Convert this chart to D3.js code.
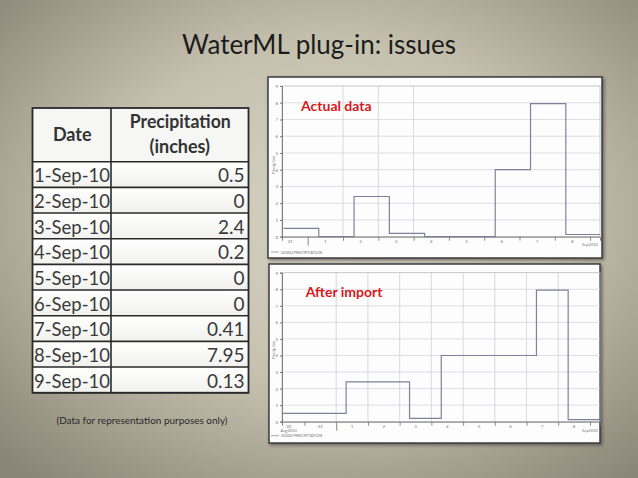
<!DOCTYPE html>
<html>
<head>
<meta charset="utf-8">
<script src="https://cdn.jsdelivr.net/npm/d3@7"></script>
<style>
  body { margin: 0; background: #8a8576; }
  svg { display: block; }
  text { font-family: Lato, "Liberation Sans", sans-serif; }
</style>
</head>
<body>
<div id="slide"></div>
<script>
// table contents
var dates = ["1-Sep-10", "2-Sep-10", "3-Sep-10", "4-Sep-10", "5-Sep-10",
             "6-Sep-10", "7-Sep-10", "8-Sep-10", "9-Sep-10"];
var precip = [0.5, 0, 2.4, 0.2, 0, 0, 0.41, 7.95, 0.13];

// what the two charts plot
var actualTimes = ["2010-08-31T07:30", "2010-09-01T07:30", "2010-09-02T07:30",
                   "2010-09-03T07:30", "2010-09-04T07:30", "2010-09-05T07:30",
                   "2010-09-06T07:30", "2010-09-07T07:30", "2010-09-08T07:30"];
var actualValues = [0.5, 0, 2.4, 0.2, 0, 0, 4, 7.95, 0.13];
var importTimes = ["2010-08-30T07:30", "2010-09-01T07:30", "2010-09-03T07:30",
                   "2010-09-04T07:30", "2010-09-07T07:30", "2010-09-08T07:30"];
var importValues = [0.5, 2.4, 0.2, 4, 7.95, 0.13];

// axis ticks / labels
var yTicks = [0, 1, 2, 3, 4, 5, 6, 7, 8, 9];
var topDomain = ["2010-08-31T06:30", "2010-09-09T06:45"];
var bottomDomain = ["2010-08-30T07:00", "2010-09-09T07:35"];
var topGridDays = ["2010-09-02", "2010-09-03", "2010-09-04"];
var bottomGridDays = ["2010-09-01", "2010-09-02", "2010-09-03", "2010-09-04",
                      "2010-09-05", "2010-09-06", "2010-09-07", "2010-09-08"];

var parse = d3.isoParse;
var width = 638, height = 478;

var svg = d3.select("#slide").append("svg")
    .attr("width", width)
    .attr("height", height);

var defs = svg.append("defs");
var bg = defs.append("radialGradient").attr("id", "bg")
    .attr("cx", "52%").attr("cy", "45%").attr("r", "72%");
bg.append("stop").attr("offset", "0%").attr("stop-color", "#d5d1c1");
bg.append("stop").attr("offset", "50%").attr("stop-color", "#c6c1af");
bg.append("stop").attr("offset", "100%").attr("stop-color", "#8a8576");

var shadow = defs.append("filter").attr("id", "shadow")
    .attr("x", "-5%").attr("y", "-5%").attr("width", "115%").attr("height", "115%");
shadow.append("feDropShadow").attr("dx", 1.5).attr("dy", 1.5)
    .attr("stdDeviation", 1.5).attr("flood-color", "#333").attr("flood-opacity", 0.6);

svg.append("rect")
    .attr("width", width)
    .attr("height", height)
    .attr("fill", "url(#bg)");

// title
svg.append("text")
    .attr("x", 319)
    .attr("y", 54)
    .attr("text-anchor", "middle")
    .attr("font-size", 27)
    .attr("textLength", 274)
    .attr("lengthAdjust", "spacingAndGlyphs")
    .attr("fill", "#1c1c1c")
    .text("WaterML plug-in: issues");

// ---- table ----
var tLeft = 32.5, tMid = 111, tRight = 248.5,
    tTop = 108, tHead = 161.7, rowH = 25.67;

var table = svg.append("g");
var cellGrad = defs.append("linearGradient").attr("id", "cell")
    .attr("x1", 0).attr("y1", 0).attr("x2", 0).attr("y2", 1);
cellGrad.append("stop").attr("offset", "0%").attr("stop-color", "#ffffff");
cellGrad.append("stop").attr("offset", "100%").attr("stop-color", "#f1f1ef");

table.append("rect")
    .attr("x", tLeft).attr("y", tTop)
    .attr("width", tRight - tLeft).attr("height", tHead - tTop)
    .attr("fill", "#f6f6f4");

var rows = table.selectAll(".row")
    .data(dates)
    .join("g")
    .attr("class", "row")
    .attr("transform", function(d, i) { return "translate(0," + (tHead + i * rowH) + ")"; });

rows.append("rect")
    .attr("x", tLeft).attr("width", tRight - tLeft).attr("height", rowH)
    .attr("fill", "url(#cell)");

rows.append("text")
    .attr("x", tLeft + 1.5)
    .attr("y", rowH - 5)
    .attr("font-size", 19)
    .attr("textLength", 76)
    .attr("lengthAdjust", "spacingAndGlyphs")
    .attr("fill", "#3a3a3a")
    .text(function(d) { return d; });

rows.append("text")
    .attr("x", tRight - 4)
    .attr("y", rowH - 5)
    .attr("text-anchor", "end")
    .attr("font-size", 19)
    .attr("fill", "#3a3a3a")
    .text(function(d, i) { return String(precip[i]); });

// grid lines of the table
var lineYs = d3.range(dates.length + 1).map(function(i) { return tHead + i * rowH; });
table.selectAll(".hline")
    .data(lineYs)
    .join("line")
    .attr("x1", tLeft).attr("x2", tRight)
    .attr("y1", function(d) { return d; }).attr("y2", function(d) { return d; })
    .attr("stroke", "#2a2a2a").attr("stroke-width", 1.6);
table.append("line")
    .attr("x1", tMid).attr("x2", tMid).attr("y1", tTop).attr("y2", lineYs[lineYs.length - 1])
    .attr("stroke", "#2a2a2a").attr("stroke-width", 1.6);
table.append("rect")
    .attr("x", tLeft).attr("y", tTop)
    .attr("width", tRight - tLeft).attr("height", lineYs[lineYs.length - 1] - tTop)
    .attr("fill", "none").attr("stroke", "#2a2a2a").attr("stroke-width", 1.8);

table.append("text")
    .attr("x", (tLeft + tMid) / 2 + 0.5).attr("y", 140.5)
    .attr("text-anchor", "middle").attr("font-size", 18).attr("font-weight", "bold")
    .attr("fill", "#333").text("Date");
table.append("text")
    .attr("x", (tMid + tRight) / 2 + 0.5).attr("y", 128)
    .attr("text-anchor", "middle").attr("font-size", 18).attr("font-weight", "bold")
    .attr("textLength", 101).attr("lengthAdjust", "spacingAndGlyphs")
    .attr("fill", "#333").text("Precipitation");
table.append("text")
    .attr("x", (tMid + tRight) / 2).attr("y", 153)
    .attr("text-anchor", "middle").attr("font-size", 18).attr("font-weight", "bold")
    .attr("fill", "#333").text("(inches)");

svg.append("text")
    .attr("x", 142).attr("y", 424)
    .attr("text-anchor", "middle").attr("font-size", 10)
    .attr("textLength", 171).attr("lengthAdjust", "spacingAndGlyphs")
    .attr("fill", "#2a2a2a")
    .text("(Data for representation purposes only)");

// ---- step charts ----
function drawChart(cfg) {
  var g = svg.append("g");
  g.append("rect")
      .attr("x", cfg.box[0]).attr("y", cfg.box[1])
      .attr("width", cfg.box[2] - cfg.box[0]).attr("height", cfg.box[3] - cfg.box[1])
      .attr("fill", "#fdfdfd").attr("stroke", "#3c3c3c").attr("stroke-width", 1.5)
      .attr("filter", "url(#shadow)");

  var dom = cfg.domain.map(parse);
  var x = d3.scaleTime().domain(dom).range([282, 600]);
  var y = d3.scaleLinear().domain([0, 9]).range([cfg.bottom, cfg.top]);

  // horizontal grid
  g.selectAll(".hg")
      .data(yTicks.slice(1, -1))
      .join("line")
      .attr("x1", x.range()[0]).attr("x2", x.range()[1])
      .attr("y1", function(d) { return y(d); }).attr("y2", function(d) { return y(d); })
      .attr("stroke", "#d6d6de").attr("stroke-width", 0.8);

  // vertical grid
  g.selectAll(".vg")
      .data(cfg.vgrid.map(parse))
      .join("line")
      .attr("x1", function(d) { return x(d); }).attr("x2", function(d) { return x(d); })
      .attr("y1", y(9)).attr("y2", y(0))
      .attr("stroke", "#d0d0d8").attr("stroke-width", 0.8);

  // frame
  g.append("rect")
      .attr("x", x.range()[0]).attr("y", y(9))
      .attr("width", x.range()[1] - x.range()[0]).attr("height", y(0) - y(9))
      .attr("fill", "none").attr("stroke", "#b8b8c2").attr("stroke-width", 0.8);

  // y axis
  var yAxis = g.append("g")
      .attr("transform", "translate(" + x.range()[0] + ",0)")
      .call(d3.axisLeft(y).tickValues(yTicks).tickSize(2).tickPadding(2));
  yAxis.select(".domain").attr("stroke", "#666").attr("stroke-width", 0.8);
  yAxis.selectAll(".tick line").attr("stroke", "#777");
  yAxis.selectAll(".tick text").attr("font-size", 4.5).attr("fill", "#777");

  // x axis: ticks at midnight, day numbers at noon
  var days = d3.timeDay.range(d3.timeDay.ceil(dom[0]), dom[1]);
  var xAxis = g.append("g")
      .attr("transform", "translate(0," + y(0) + ")")
      .call(d3.axisBottom(x).tickValues(days).tickSize(4).tickFormat(""));
  xAxis.select(".domain").attr("stroke", "#666").attr("stroke-width", 0.8);
  xAxis.selectAll(".tick line")
      .attr("stroke", "#888")
      .attr("y2", function(d) { return d.getDate() === 1 ? 9 : 4; });

  var noons = d3.timeDay.range(d3.timeDay.floor(dom[0]), dom[1])
      .map(function(d) { return d3.timeHour.offset(d, 12); })
      .filter(function(d) { return d >= dom[0] && d <= dom[1]; });
  g.selectAll(".dayLabel")
      .data(noons)
      .join("text")
      .attr("x", function(d) { return x(d); })
      .attr("y", y(0) + 6)
      .attr("text-anchor", "middle")
      .attr("font-size", 4.5)
      .attr("fill", "#777")
      .text(d3.timeFormat("%-d"));

  g.append("text")
      .attr("x", 590).attr("y", y(0) + cfg.sepDy)
      .attr("text-anchor", "middle").attr("font-size", 4).attr("fill", "#777")
      .text("Sep2010");
  if (cfg.augLabel) {
    g.append("text")
        .attr("x", x(noons[0])).attr("y", y(0) + cfg.sepDy)
        .attr("text-anchor", "middle").attr("font-size", 4).attr("fill", "#777")
        .text("Aug2010");
  }

  // y axis title
  g.append("text")
      .attr("transform", "translate(275," + cfg.yLabelY + ") rotate(-90)")
      .attr("text-anchor", "middle").attr("font-size", 4).attr("fill", "#777")
      .text("Precip (in)");

  // legend
  g.append("line")
      .attr("x1", 271).attr("x2", 279)
      .attr("y1", cfg.legendY).attr("y2", cfg.legendY)
      .attr("stroke", "#8a8aa4").attr("stroke-width", 0.8);
  g.append("text")
      .attr("x", 281).attr("y", cfg.legendY + 1.5)
      .attr("font-size", 4).attr("fill", "#777")
      .text("00000 PRECIPITATION");

  // step series
  var pts = cfg.times.map(function(t, i) { return [parse(t), cfg.values[i]]; });
  pts.push([dom[1], cfg.values[cfg.values.length - 1]]);

  var clipId = "clip" + cfg.id;
  defs.append("clipPath").attr("id", clipId)
    .append("rect")
      .attr("x", x.range()[0]).attr("y", y(9))
      .attr("width", x.range()[1] - x.range()[0]).attr("height", y(0) - y(9) + 1);

  g.append("path")
      .datum(pts)
      .attr("clip-path", "url(#" + clipId + ")")
      .attr("fill", "none")
      .attr("stroke", "#80809c")
      .attr("stroke-width", 1.2)
      .attr("d", d3.line()
          .x(function(d) { return x(d[0]); })
          .y(function(d) { return y(d[1]); })
          .curve(d3.curveStepAfter));

  g.append("text")
      .attr("x", cfg.label[0]).attr("y", cfg.label[1])
      .attr("font-size", 14).attr("font-weight", "bold")
      .attr("fill", "#d71920")
      .text(cfg.label[2]);
}

drawChart({
  id: "top",
  box: [268, 77, 602, 258],
  top: 86, bottom: 236.7,
  domain: topDomain,
  vgrid: topGridDays,
  times: actualTimes, values: actualValues,
  sepDy: 9, augLabel: false,
  yLabelY: 165, legendY: 252,
  label: [301, 110.7, "Actual data"]
});

drawChart({
  id: "bottom",
  box: [269, 264, 600, 443],
  top: 272.7, bottom: 421.7,
  domain: bottomDomain,
  vgrid: bottomGridDays,
  times: importTimes, values: importValues,
  sepDy: 10, augLabel: true,
  yLabelY: 350, legendY: 435.7,
  label: [305.7, 296.7, "After import"]
});
</script>
</body>
</html>
